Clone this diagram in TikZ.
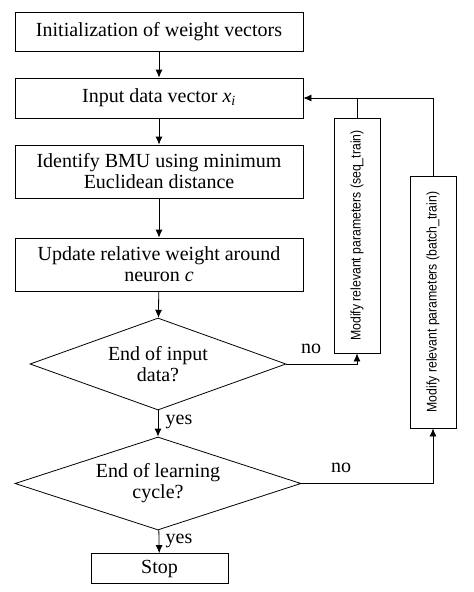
\documentclass[tikz,border=0pt]{standalone}
\usepackage{fontspec}
\setmainfont{Liberation Serif}
\newfontfamily\modfont{Liberation Sans}
\usetikzlibrary{shapes.geometric,arrows.meta}
\tikzset{
  stepbox/.style={draw, line width=0.8pt, minimum width=288pt, minimum height=#1, align=center, inner sep=1pt},
  decision/.style={draw, diamond, aspect=3, line width=0.8pt, inner sep=0pt, align=center},
  modbox/.style={draw, line width=0.8pt, rotate=90, minimum height=46pt, minimum width=#1, inner sep=0pt, font=\modfont\fontsize{14}{16}\selectfont},
  flow/.style={-{Latex[length=8pt,width=7pt]}, line width=0.8pt}
}

\begin{document}
\begin{tikzpicture}[x=1pt, y=-1pt, font=\fontsize{20}{21}\selectfont]
  \useasboundingbox (0,0) rectangle (474,592);
  \node[stepbox=39pt] (init) at (159,31.5) {Initialization of weight vectors};
  \node[stepbox=40pt] (input) at (159,98) {Input data vector \textit{x}\textsubscript{\textit{i}}};
  \node[stepbox=53pt] (bmu) at (159,171.5) {Identify BMU using minimum\\Euclidean distance};
  \node[stepbox=53pt] (update) at (159,264.5) {Update relative weight around\\neuron \textit{c}};
  \node[decision, minimum width=256pt, minimum height=92pt] (endinput) at (158,364) {End of input\\data?};
  \node[decision, minimum width=286pt, minimum height=93pt] (endcycle) at (158,483.5) {End of learning\\cycle?};
  \node[draw, line width=0.8pt, minimum width=137pt, minimum height=30pt] (stop) at (159.5,568.5) {Stop};

  \node[modbox=235pt] (seq) at (357,235.5) {\scalebox{0.875}[1]{Modify relevant parameters (seq\_train)}};
  \node[modbox=252pt] (batch) at (433,302) {\scalebox{0.875}[1]{Modify relevant parameters (batch\_train)}};

  \draw[flow] (init) -- (input);
  \draw[flow] (input) -- (bmu);
  \draw[flow] (bmu) -- (update);
  \draw[flow] (update) -- (endinput);
  \draw[flow] (endinput) -- (endcycle);
  \draw[flow] (endcycle) -- (stop);

  \draw[flow] (endinput.east) -| (seq.west);
  \draw[flow] (endcycle.east) -| (batch.west);
  \draw[flow] (batch.east) |- (input.east);
  \draw[line width=0.8pt] (seq.east) -- (seq.east |- input.east);

  \node (no1) at (311,349) {no};
  \node (no2) at (341,468) {no};
  \node (yes1) at (179,422) {yes};
  \node (yes2) at (179,541) {yes};
\end{tikzpicture}
\end{document}
